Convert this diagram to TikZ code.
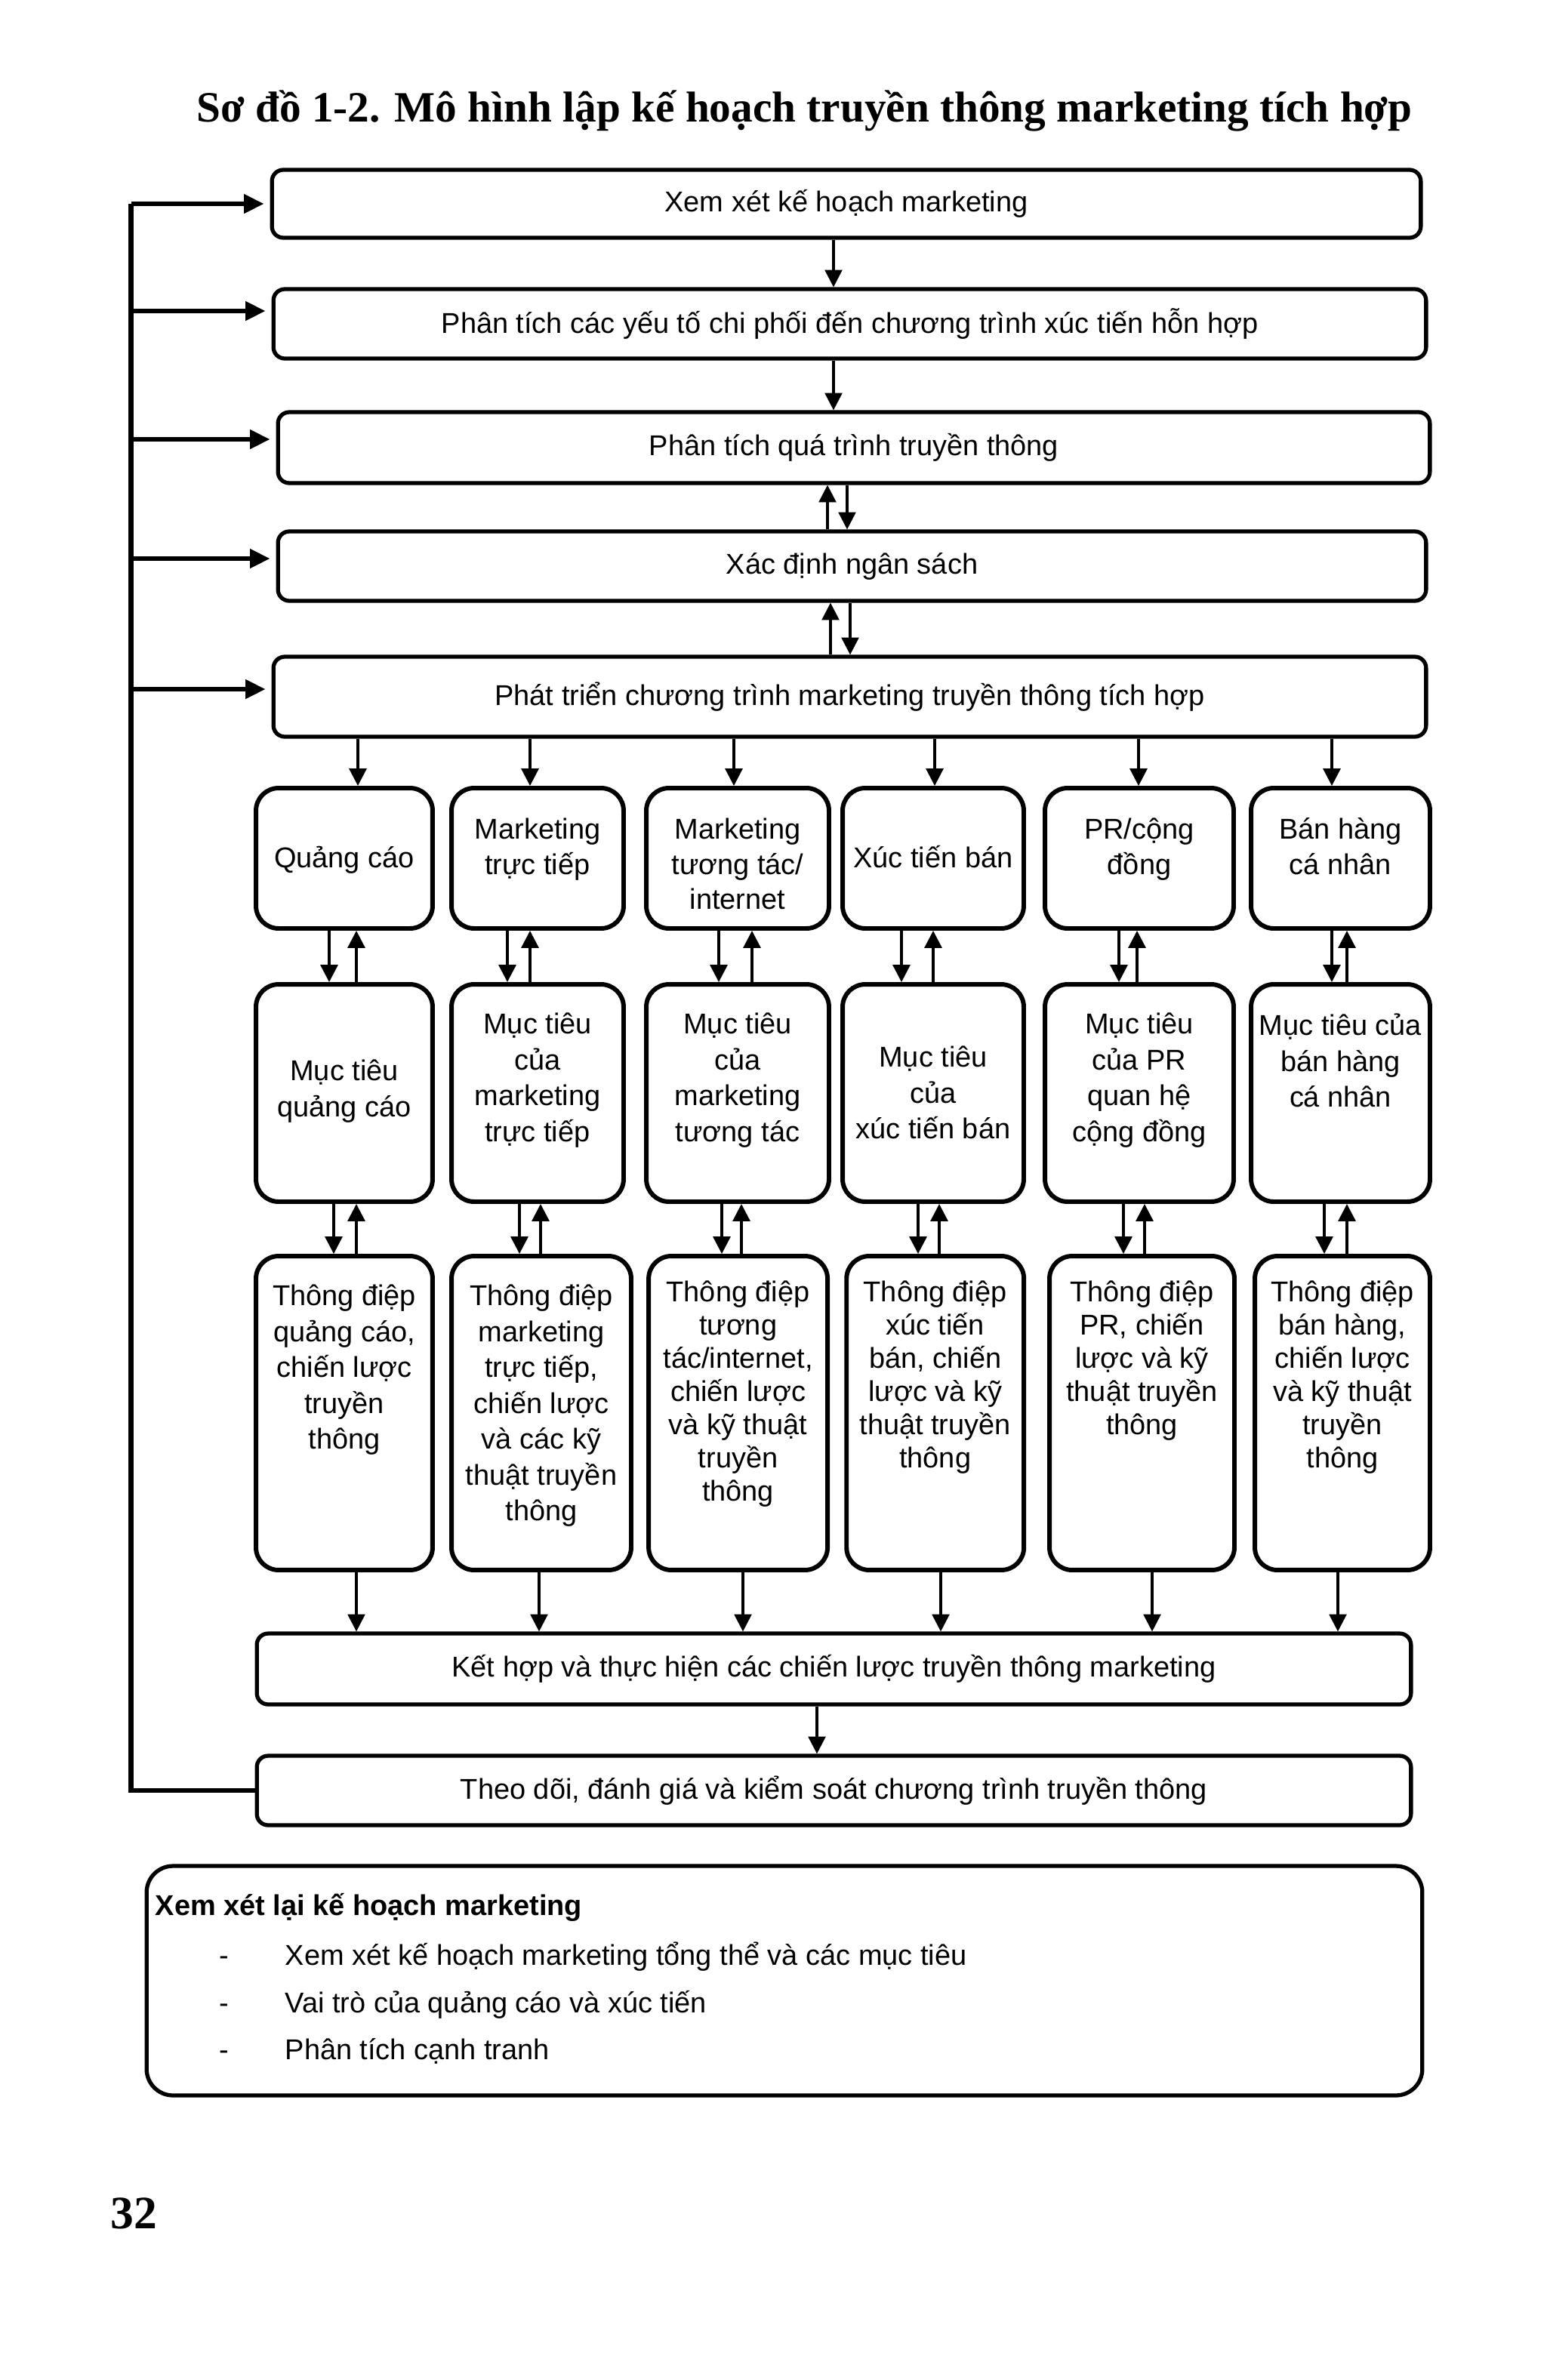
\documentclass[tikz,border=0pt]{standalone}
\usepackage{fontspec}
\setmainfont{Liberation Sans}
\newfontfamily\serifbf{Liberation Serif}
\usetikzlibrary{arrows.meta}
\begin{document}
\begin{tikzpicture}[x=0.02cm,y=-0.02cm,
  every node/.style={inner sep=0pt},
  bodyfont/.style={font=\fontsize{10.8}{13}\selectfont},
  longbox/.style={draw, line width=1.5pt, rounded corners=1.5mm, bodyfont},
  colbox/.style={draw, line width=1.7pt, rounded corners=3mm},
  coltext/.style={align=center, anchor=north},
  arr/.style={-{Triangle[width=6.5pt,length=6.5pt]}, line width=0.9pt},
  fbarr/.style={-{Triangle[width=7pt,length=7.5pt]}, line width=1.6pt, shorten >=0.08cm},
  fbline/.style={line width=1.8pt},
]
\useasboundingbox (0,0) rectangle (1024,1576.5);

% title
\node[anchor=base, font=\serifbf\bfseries\fontsize{16.3}{19}\selectfont] (title) at (532.75,80.8)
  {Sơ đồ 1-2. Mô hình lập kế hoạch truyền thông marketing tích hợp};

% long boxes
\node[longbox, minimum width=15.22cm, minimum height=0.90cm] (b1) at (560.5,135) {Xem xét kế hoạch marketing};
\node[longbox, minimum width=15.27cm, minimum height=0.92cm] (b2) at (562.75,214.5) {Phân tích các yếu tố chi phối đến chương trình xúc tiến hỗn hợp};
\node[longbox, minimum width=15.26cm, minimum height=0.94cm] (b3) at (565.5,296.5) {Phân tích quá trình truyền thông};
\node[longbox, minimum width=15.21cm, minimum height=0.92cm] (b4) at (564.25,375) {Xác định ngân sách};
\node[longbox, minimum width=15.27cm, minimum height=1.06cm] (b5) at (562.75,461.5) {Phát triển chương trình marketing truyền thông tích hợp};

% row 1 boxes
\node[colbox, minimum width=2.34cm, minimum height=1.86cm] (r1c1) at (228,568.5) {};
\node[colbox, minimum width=2.28cm, minimum height=1.86cm] (r1c2) at (356,568.5) {};
\node[colbox, minimum width=2.42cm, minimum height=1.86cm] (r1c3) at (488.5,568.5) {};
\node[colbox, minimum width=2.40cm, minimum height=1.86cm] (r1c4) at (618,568.5) {};
\node[colbox, minimum width=2.50cm, minimum height=1.86cm] (r1c5) at (754.5,568.5) {};
\node[colbox, minimum width=2.37cm, minimum height=1.86cm] (r1c6) at (887.75,568.5) {};
% row 2 boxes
\node[colbox, minimum width=2.34cm, minimum height=2.88cm] (r2c1) at (228,724) {};
\node[colbox, minimum width=2.28cm, minimum height=2.88cm] (r2c2) at (356,724) {};
\node[colbox, minimum width=2.42cm, minimum height=2.88cm] (r2c3) at (488.5,724) {};
\node[colbox, minimum width=2.40cm, minimum height=2.88cm] (r2c4) at (618,724) {};
\node[colbox, minimum width=2.50cm, minimum height=2.88cm] (r2c5) at (754.5,724) {};
\node[colbox, minimum width=2.37cm, minimum height=2.88cm] (r2c6) at (887.75,724) {};
% row 3 boxes
\node[colbox, minimum width=2.34cm, minimum height=4.16cm] (r3c1) at (228,936) {};
\node[colbox, minimum width=2.38cm, minimum height=4.16cm] (r3c2) at (358.5,936) {};
\node[colbox, minimum width=2.37cm, minimum height=4.16cm] (r3c3) at (488.8,936) {};
\node[colbox, minimum width=2.35cm, minimum height=4.16cm] (r3c4) at (619.35,936) {};
\node[colbox, minimum width=2.45cm, minimum height=4.16cm] (r3c5) at (756.25,936) {};
\node[colbox, minimum width=2.32cm, minimum height=4.16cm] (r3c6) at (889,936) {};

% row 1 texts
\begin{scope}[every node/.append style={font=\fontsize{10.8}{13.3}\selectfont}]
\node[coltext] (t1c1) at (228,558) {\strut Quảng cáo};
\node[coltext] (t1c2) at (356,539) {\strut Marketing\\trực tiếp};
\node[coltext] (t1c3) at (488.5,539) {\strut Marketing\\tương tác/\\internet};
\node[coltext] (t1c4) at (618,558) {\strut Xúc tiến bán};
\node[coltext] (t1c5) at (754.5,539) {\strut PR/cộng\\đồng};
\node[coltext] (t1c6) at (887.75,539) {\strut Bán hàng\\cá nhân};
\end{scope}
% row 2 texts
\begin{scope}[every node/.append style={font=\fontsize{10.8}{13.5}\selectfont}]
\node[coltext] (t2c1) at (228,699) {\strut Mục tiêu\\quảng cáo};
\node[coltext] (t2c2) at (356,668) {\strut Mục tiêu\\của\\marketing\\trực tiếp};
\node[coltext] (t2c3) at (488.5,668) {\strut Mục tiêu\\của\\marketing\\tương tác};
\node[coltext] (t2c4) at (618,690) {\strut Mục tiêu\\của\\xúc tiến bán};
\node[coltext] (t2c5) at (754.5,668) {\strut Mục tiêu\\của PR\\quan hệ\\cộng đồng};
\node[coltext] (t2c6) at (887.75,669) {\strut Mục tiêu của\\bán hàng\\cá nhân};
\end{scope}
% row 3 texts
\begin{scope}[every node/.append style={font=\fontsize{10.8}{13.5}\selectfont}]
\node[coltext] (t3c1) at (228,848) {\strut Thông điệp\\quảng cáo,\\chiến lược\\truyền\\thông};
\node[coltext] (t3c2) at (358.5,848) {\strut Thông điệp\\marketing\\trực tiếp,\\chiến lược\\và các kỹ\\thuật truyền\\thông};
\end{scope}
\begin{scope}[every node/.append style={font=\fontsize{10.8}{12.5}\selectfont}]
\node[coltext] (t3c3) at (488.8,846.5) {\strut Thông điệp\\tương\\tác/internet,\\chiến lược\\và kỹ thuật\\truyền\\thông};
\node[coltext] (t3c4) at (619.35,846.5) {\strut Thông điệp\\xúc tiến\\bán, chiến\\lược và kỹ\\thuật truyền\\thông};
\node[coltext] (t3c5) at (756.25,846.5) {\strut Thông điệp\\PR, chiến\\lược và kỹ\\thuật truyền\\thông};
\node[coltext] (t3c6) at (889,846.5) {\strut Thông điệp\\bán hàng,\\chiến lược\\và kỹ thuật\\truyền\\thông};
\end{scope}

% lower long boxes
\node[longbox, minimum width=15.29cm, minimum height=0.94cm] (k1) at (552.25,1105.5) {Kết hợp và thực hiện các chiến lược truyền thông marketing};
\node[longbox, minimum width=15.29cm, minimum height=0.92cm] (k2) at (552.25,1186) {Theo dõi, đánh giá và kiểm soát chương trình truyền thông};

% review box
\node[draw, line width=1.5pt, rounded corners=3.5mm, minimum width=16.9cm, minimum height=3.04cm] (rb) at (519.5,1312) {};
\begin{scope}[every node/.append style={font=\fontsize{10.8}{13}\selectfont}]
\node[anchor=base west, font=\bfseries\fontsize{10.8}{13}\selectfont] (rbt) at (102.5,1268.5) {Xem xét lại kế hoạch marketing};
\node[anchor=base] (d1) at (148.5,1301.5) {-};
\node[anchor=base west] (i1) at (188.5,1301.5) {Xem xét kế hoạch marketing tổng thể và các mục tiêu};
\node[anchor=base] (d2) at (148.5,1333) {-};
\node[anchor=base west] (i2) at (188.5,1333) {Vai trò của quảng cáo và xúc tiến};
\node[anchor=base] (d3) at (148.5,1364) {-};
\node[anchor=base west] (i3) at (188.5,1364) {Phân tích cạnh tranh};
\end{scope}

% page number
\node[anchor=base, font=\serifbf\bfseries\fontsize{17.5}{20}\selectfont] (pn) at (88.7,1476) {32};

% arrows between long boxes
\draw[arr] (b1.south -| 552,0) -- (b2.north -| 552,0);
\draw[arr] (b2.south -| 552,0) -- (b3.north -| 552,0);
\draw[arr] (b4.north -| 548,0) -- (b3.south -| 548,0);
\draw[arr] (b3.south -| 561,0) -- (b4.north -| 561,0);
\draw[arr] (b5.north -| 550,0) -- (b4.south -| 550,0);
\draw[arr] (b4.south -| 563,0) -- (b5.north -| 563,0);

% b5 to row 1
\draw[arr] (b5.south -| 237,0) -- (r1c1.north -| 237,0);
\draw[arr] (b5.south -| 351,0) -- (r1c2.north -| 351,0);
\draw[arr] (b5.south -| 486,0) -- (r1c3.north -| 486,0);
\draw[arr] (b5.south -| 619,0) -- (r1c4.north -| 619,0);
\draw[arr] (b5.south -| 754,0) -- (r1c5.north -| 754,0);
\draw[arr] (b5.south -| 882,0) -- (r1c6.north -| 882,0);

% row 1 <-> row 2
\draw[arr] (r1c1.south -| 218,0) -- (r2c1.north -| 218,0);
\draw[arr] (r2c1.north -| 236,0) -- (r1c1.south -| 236,0);
\draw[arr] (r1c2.south -| 336,0) -- (r2c2.north -| 336,0);
\draw[arr] (r2c2.north -| 351,0) -- (r1c2.south -| 351,0);
\draw[arr] (r1c3.south -| 476,0) -- (r2c3.north -| 476,0);
\draw[arr] (r2c3.north -| 498,0) -- (r1c3.south -| 498,0);
\draw[arr] (r1c4.south -| 597,0) -- (r2c4.north -| 597,0);
\draw[arr] (r2c4.north -| 618,0) -- (r1c4.south -| 618,0);
\draw[arr] (r1c5.south -| 741,0) -- (r2c5.north -| 741,0);
\draw[arr] (r2c5.north -| 753,0) -- (r1c5.south -| 753,0);
\draw[arr] (r1c6.south -| 882,0) -- (r2c6.north -| 882,0);
\draw[arr] (r2c6.north -| 892,0) -- (r1c6.south -| 892,0);

% row 2 <-> row 3
\draw[arr] (r2c1.south -| 221,0) -- (r3c1.north -| 221,0);
\draw[arr] (r3c1.north -| 236,0) -- (r2c1.south -| 236,0);
\draw[arr] (r2c2.south -| 344,0) -- (r3c2.north -| 344,0);
\draw[arr] (r3c2.north -| 358,0) -- (r2c2.south -| 358,0);
\draw[arr] (r2c3.south -| 478,0) -- (r3c3.north -| 478,0);
\draw[arr] (r3c3.north -| 491,0) -- (r2c3.south -| 491,0);
\draw[arr] (r2c4.south -| 608,0) -- (r3c4.north -| 608,0);
\draw[arr] (r3c4.north -| 622,0) -- (r2c4.south -| 622,0);
\draw[arr] (r2c5.south -| 744,0) -- (r3c5.north -| 744,0);
\draw[arr] (r3c5.north -| 758,0) -- (r2c5.south -| 758,0);
\draw[arr] (r2c6.south -| 877,0) -- (r3c6.north -| 877,0);
\draw[arr] (r3c6.north -| 892,0) -- (r2c6.south -| 892,0);

% row 3 to k1
\draw[arr] (r3c1.south -| 236,0) -- (k1.north -| 236,0);
\draw[arr] (r3c2.south -| 357,0) -- (k1.north -| 357,0);
\draw[arr] (r3c3.south -| 492,0) -- (k1.north -| 492,0);
\draw[arr] (r3c4.south -| 623,0) -- (k1.north -| 623,0);
\draw[arr] (r3c5.south -| 763,0) -- (k1.north -| 763,0);
\draw[arr] (r3c6.south -| 886,0) -- (k1.north -| 886,0);

% k1 to k2
\draw[arr] (k1.south -| 541,0) -- (k2.north -| 541,0);

% feedback loop
\draw[fbline] (k2.west) -- (k2.west -| 86.75,0) -- (b1.west -| 86.75,0);
\draw[fbarr] (b1.west -| 86.75,0) -- (b1.west);
\draw[fbarr] ([yshift=0.17cm]b2.west -| 86.75,0) -- ([yshift=0.17cm]b2.west);
\draw[fbarr] ([yshift=0.11cm]b3.west -| 86.75,0) -- ([yshift=0.11cm]b3.west);
\draw[fbarr] ([yshift=0.10cm]b4.west -| 86.75,0) -- ([yshift=0.10cm]b4.west);
\draw[fbarr] ([yshift=0.10cm]b5.west -| 86.75,0) -- ([yshift=0.10cm]b5.west);
\end{tikzpicture}
\end{document}
